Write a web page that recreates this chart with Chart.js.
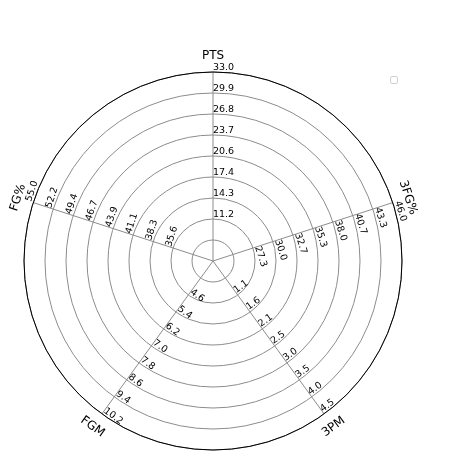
<!DOCTYPE html>
<html>
<head>
<meta charset="utf-8">
<script src="https://cdn.jsdelivr.net/npm/chart.js@4/dist/chart.umd.min.js"></script>
<style>
html,body{margin:0;padding:0;background:#fff;overflow:hidden;}
#wrap{width:474px;height:474px;}
</style>
</head>
<body>
<div id="wrap"><canvas id="c" width="474" height="474"></canvas></div>
<script>
// Axis categories (clockwise from top)
const categories = ['PTS', '3FG%', '3PM', 'FGM', 'FG%'];
// Per-axis tick labels, for rings 2..9
const ptsTicks  = ['11.2', '14.3', '17.4', '20.6', '23.7', '26.8', '29.9', '33.0'];
const fg3pTicks = ['27.3', '30.0', '32.7', '35.3', '38.0', '40.7', '43.3', '46.0'];
const pm3Ticks  = ['1.1', '1.6', '2.1', '2.5', '3.0', '3.5', '4.0', '4.5'];
const fgmTicks  = ['4.6', '5.4', '6.2', '7.0', '7.8', '8.6', '9.4', '10.2'];
const fgpTicks  = ['35.6', '38.3', '41.1', '43.9', '46.7', '49.4', '52.2', '55.0'];
const axisTicks = [ptsTicks, fg3pTicks, pm3Ticks, fgmTicks, fgpTicks];
// Series values: none are drawn in the reference
const seriesValues = [];

const FONT = "'DejaVu Sans', 'Liberation Sans', sans-serif";

function readableRotation(mathDeg) {
  let rot = mathDeg - 90;
  while (rot > 180) rot -= 360;
  while (rot <= -180) rot += 360;
  if (rot > 90) rot -= 180;
  if (rot < -90) rot += 180;
  return rot;
}

const radarDecor = {
  id: 'radarDecor',
  afterDraw(chart) {
    const s = chart.scales.r;
    const ctx = chart.ctx;
    ctx.save();
    // outer spine
    ctx.beginPath();
    ctx.arc(s.xCenter, s.yCenter, s.drawingArea, 0, Math.PI * 2);
    ctx.strokeStyle = '#000';
    ctx.lineWidth = 1;
    ctx.stroke();

    categories.forEach((cat, i) => {
      const mathDeg = 90 - i * 360 / categories.length;
      const rot = readableRotation(mathDeg) * Math.PI / 180;
      // tick labels along this axis
      ctx.font = '9.5px ' + FONT;
      ctx.fillStyle = '#000';
      ctx.textAlign = 'left';
      ctx.textBaseline = 'bottom';
      axisTicks[i].forEach((lbl, k) => {
        const p = s.getPointPositionForValue(i, k + 2);
        ctx.save();
        ctx.translate(p.x, p.y);
        ctx.rotate(-rot);
        ctx.fillText(lbl, 0, 0);
        ctx.restore();
      });
      // axis name
      const q = s.getPointPosition(i, s.drawingArea + 16);
      ctx.save();
      ctx.translate(q.x, q.y);
      ctx.rotate(-rot);
      ctx.font = '12px ' + FONT;
      ctx.textAlign = 'center';
      ctx.textBaseline = 'middle';
      ctx.fillText(cat, 0, 0);
      ctx.restore();
    });

    // empty legend box
    ctx.beginPath();
    if (ctx.roundRect) ctx.roundRect(390.5, 76.5, 7, 7, 1.5); else ctx.rect(390.5, 76.5, 7, 7);
    ctx.strokeStyle = '#d0d0d0';
    ctx.lineWidth = 1;
    ctx.stroke();
    ctx.restore();
  }
};

new Chart(document.getElementById('c'), {
  type: 'radar',
  data: {
    labels: categories,
    datasets: [{ label: '', data: seriesValues, borderWidth: 0, pointRadius: 0 }]
  },
  options: {
    responsive: false,
    animation: false,
    layout: { padding: { left: 24, right: 72, top: 72, bottom: 24 } },
    plugins: { legend: { display: false }, tooltip: { enabled: false } },
    scales: {
      r: {
        min: 0,
        max: 9,
        beginAtZero: true,
        ticks: { display: false, stepSize: 1 },
        pointLabels: { display: false },
        grid: { circular: true, color: '#8c8c8c', lineWidth: 1 },
        angleLines: { color: '#8c8c8c', lineWidth: 1 }
      }
    }
  },
  plugins: [radarDecor]
});
</script>
</body>
</html>
